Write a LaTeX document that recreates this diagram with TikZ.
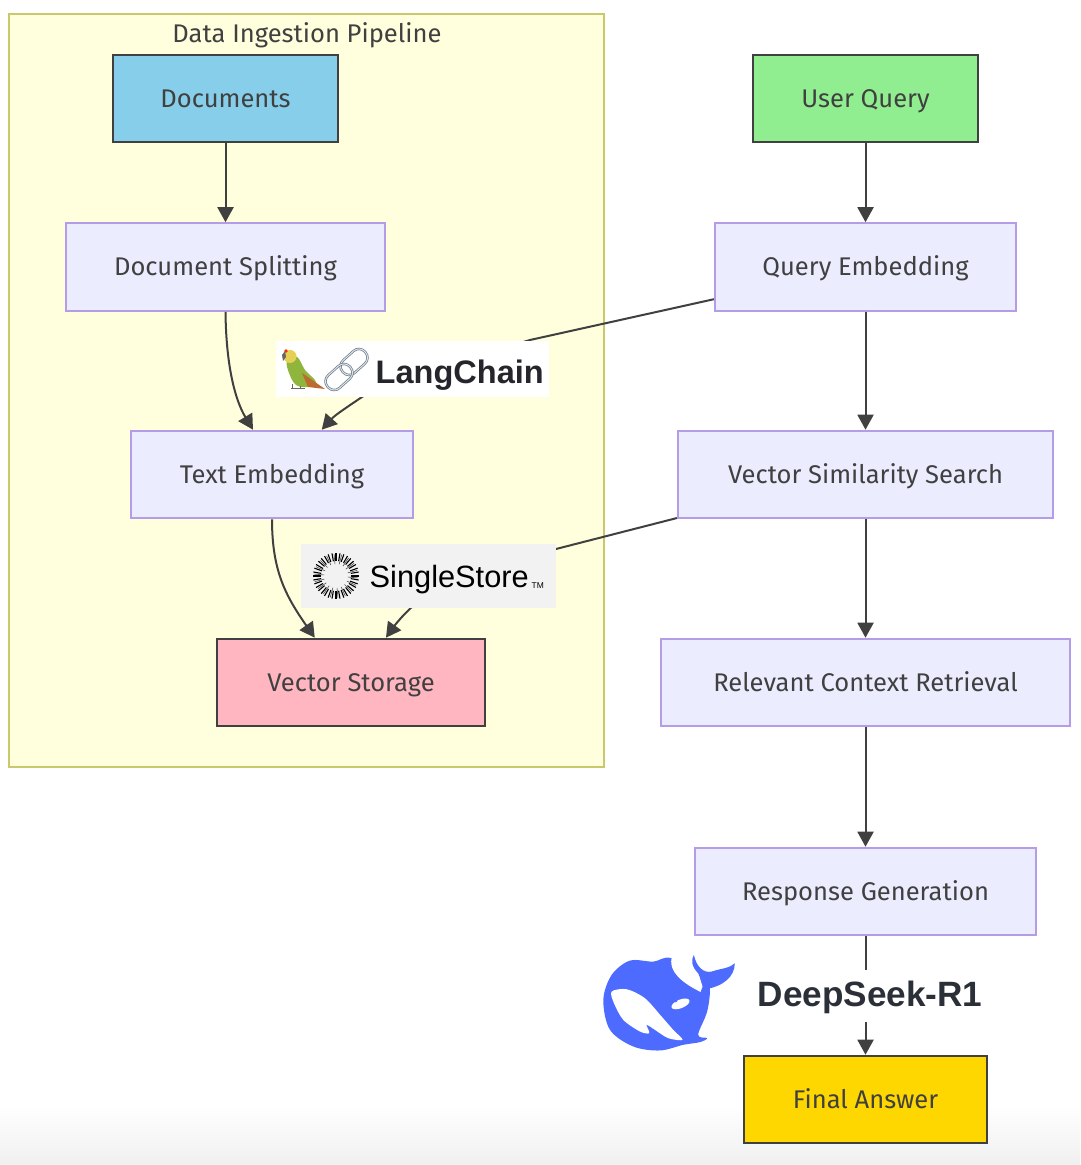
\documentclass[tikz,border=0pt]{standalone}
\usepackage{fontspec}
\usepackage{xcolor}
\usetikzlibrary{arrows.meta}
\setmainfont{Fira Sans}
\newfontfamily\logofont{Liberation Sans}
\definecolor{pipeline}{HTML}{FFFFDE}
\definecolor{pipelineline}{HTML}{C9C96B}
\definecolor{procfill}{HTML}{ECECFF}
\definecolor{procline}{HTML}{B49CE6}
\definecolor{inkline}{HTML}{404040}
\definecolor{whale}{HTML}{4D6BFE}
\definecolor{docsfill}{HTML}{87CEEB}
\definecolor{queryfill}{HTML}{90EE90}
\definecolor{storefill}{HTML}{FFB6C1}
\definecolor{finalfill}{HTML}{FFD700}
\definecolor{seekink}{HTML}{2B3038}
\definecolor{langink}{HTML}{24262B}
\definecolor{parrotgreen}{HTML}{8FB53C}
\definecolor{parrottail}{HTML}{BC6A30}
\definecolor{parrothead}{HTML}{E6CF55}
\definecolor{chaindark}{HTML}{6E7883}
\definecolor{chainlight}{HTML}{DCE6F0}
\tikzset{
  procbox/.style={draw=procline, fill=procfill, line width=0.02cm, minimum height=0.875cm, inner sep=0pt, text=inkline, text height=0.18cm, text depth=0cm, font=\fontsize{7.27}{9}\selectfont},
  endbox/.style={procbox, draw=inkline},
  flow/.style={draw=inkline, line width=0.02cm, -{Triangle[length=0.15cm,width=0.16cm]}},
  logobox/.style={inner sep=0pt, minimum height=0.56cm},
  chainlink/.style={draw=chaindark, double=chainlight, double distance=0.01cm, line width=0.007cm, rounded corners=0.08cm},
}
\begin{document}
\begin{tikzpicture}[x=0.01cm,y=-0.01cm]
    \useasboundingbox (0,0) rectangle (1080,1165);
    \shade[top color=white, bottom color=black!6] (0,1105) rectangle (1080,1165);

    % ingestion group
    \node[draw=pipelineline, fill=pipeline, line width=0.02cm, minimum width=5.95cm, minimum height=7.53cm, inner sep=0pt] (pipeline) at (306.5,390.5) {};
    \node[text=inkline, font=\fontsize{7.27}{9}\selectfont, text height=0.18cm, text depth=0cm, inner sep=0pt] (pipetitle) at (307,34) {Data Ingestion Pipeline};

    % boxes
    \node[endbox, fill=docsfill, minimum width=2.25cm] (docs) at (225.5,98.5) {Documents};
    \node[procbox, minimum width=3.19cm] (split) at (225.5,267) {Document Splitting};
    \node[procbox, minimum width=2.82cm] (textemb) at (272,474.5) {Text Embedding};
    \node[endbox, fill=storefill, minimum width=2.68cm] (storage) at (351,682.5) {Vector Storage};

    \node[endbox, fill=queryfill, minimum width=2.25cm] (query) at (865.5,98.5) {User Query};
    \node[procbox, minimum width=3.01cm] (qemb) at (865.5,267) {Query Embedding};
    \node[procbox, minimum width=3.75cm] (search) at (865.5,474.5) {Vector Similarity Search};
    \node[procbox, minimum width=4.09cm] (context) at (865.5,682.5) {Relevant Context Retrieval};
    \node[procbox, minimum width=3.41cm] (response) at (865.5,891.5) {Response Generation};
    \node[endbox, fill=finalfill, minimum width=2.43cm] (final) at (865.5,1099.5) {Final Answer};

    % edges
    \draw[flow] (docs) -- (split);
    \draw[flow] (split.south) .. controls (226,365) and (235,400) .. (textemb.113);
    \draw[flow] (textemb.south) .. controls (272,570) and (285,595) .. (storage.129);
    \draw[flow] (query) -- (qemb);
    \draw[flow] (qemb) -- (search);
    \draw[flow] (search) -- (context);
    \draw[flow] (context) -- (response);
    \draw[flow] (response) -- (final);
    \draw[flow] (qemb.192) -- (530,340) -- (380,385) .. controls (350,405) and (335,415) .. (textemb.42);
    \draw[flow] (search.193) -- (556,549) -- (420,600) .. controls (405,612) and (395,625) .. (storage.52);

    % langchain label
    \node[logobox, fill=white, minimum width=2.73cm] (langbox) at (412.5,369) {};
    \node[anchor=west, inner sep=0pt, text=langink, font=\logofont\fontsize{9.25}{11}\selectfont\bfseries] (langtext) at (375,375) {LangChain};
    \fill[parrotgreen] plot[smooth cycle, tension=.6] coordinates {(287,361) (297,357) (305,370) (316,382) (308,387) (296,385) (289,373)};
    \fill[parrottail] (302,373) -- (325,389) -- (308,387) -- cycle;
    \fill[parrothead] (290,356.5) circle (6.5);
    \fill[red!70!orange] (286,351) circle (1.8);
    \fill[black!60] (285,351) -- (282,355) -- (283,361) -- (286,357) -- cycle;
    \draw[black!60, line width=0.01cm] (292,384) -- (292,389) (300,386) -- (300,389) (291,389) -- (305,389);
    \draw[chainlink, rotate around={42:(354,362)}] (339,353.5) rectangle (369,370.5);
    \draw[chainlink, rotate around={42:(339,377)}] (324,368.5) rectangle (354,385.5);

    % singlestore label
    \node[logobox, fill=black!5, minimum width=2.55cm, minimum height=0.64cm] (storebox) at (428.5,576) {};
    \node[anchor=west, inner sep=0pt, font=\logofont\fontsize{8.75}{11}\selectfont] (storetext) at (369,580) {SingleStore};
    \node[anchor=west, inner sep=0pt, font=\logofont\fontsize{2.4}{3}\selectfont] (storetm) at (531,585.5) {TM};
    \foreach \a in {0,10,...,350}
        \draw[black, line width=0.011cm] (336,576) ++(\a:15) -- ++(\a:8);
    \foreach \a in {5,25,...,345}
        \draw[black!70, line width=0.006cm] (336,576) ++(\a:12) -- ++(\a:10);

    % deepseek label
    \node[fill=white, inner sep=0pt, minimum width=2.45cm, minimum height=0.52cm] (seekbox) at (868,996) {};
    \node[anchor=west, inner sep=0pt, text=seekink, font=\logofont\fontsize{10}{12}\selectfont\bfseries] (seektext) at (757,997) {DeepSeek-R1};
    \begin{scope}[shift={(590,930)},x=0.00333cm,y=-0.00333cm]
        \fill[whale] plot[smooth cycle, tension=.55] coordinates {(245,85) (190,95) (120,92) (65,135) (40,210) (60,300) (130,350) (210,362) (280,345) (330,337) (352,325) (325,315) (352,245) (360,175) (340,150)};
        \fill[white] (245,85) -- (310,75) -- (338,170) -- (332,186) .. controls (300,170) and (235,135) .. (245,85) -- cycle;
        \fill[whale] (312,75) .. controls (320,110) and (340,130) .. (365,125) .. controls (395,115) and (420,115) .. (435,100) .. controls (435,140) and (400,170) .. (345,178) -- (325,130) .. controls (305,110) and (303,90) .. (312,75) -- cycle;
        \fill[white] plot[smooth cycle, tension=.5] coordinates {(65,185) (110,178) (165,205) (215,260) (250,300) (278,330) (235,325) (195,300) (170,285) (178,310) (150,305) (100,270) (72,220)};
        \fill[white, rotate around={22:(272,222)}] (272,222) ellipse (29 and 13);
        \fill[whale] (258,213) circle (5);
    \end{scope}
\end{tikzpicture}
\end{document}
